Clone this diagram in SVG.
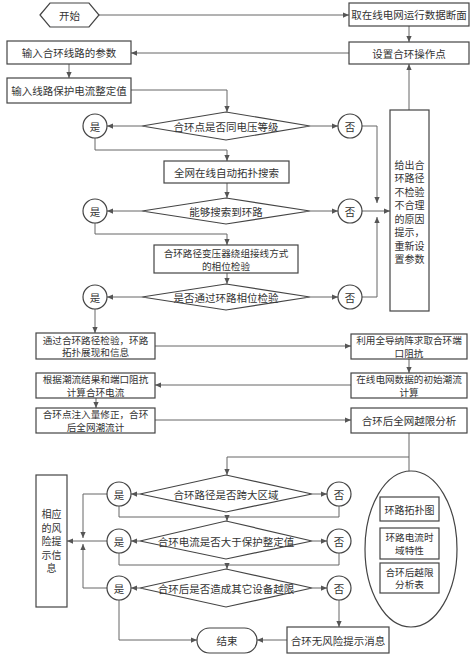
<svg xmlns="http://www.w3.org/2000/svg" width="474" height="655" viewBox="0 0 474 655">
<defs>
<marker id="ah" viewBox="0 0 8 8" refX="8" refY="4" markerWidth="6" markerHeight="6" orient="auto" markerUnits="userSpaceOnUse">
<path d="M0,0.5 L8,4 L0,7.5 z" fill="#555"/>
</marker>
<style>
.n{fill:#fff;stroke:#444;stroke-width:1.2}
.t{font-family:"Noto Sans CJK SC","Noto Sans",sans-serif;font-size:10.5px;fill:#333;text-anchor:middle;dominant-baseline:central}
.s{font-size:9.6px}
.v{font-size:10px}
.c{fill:none;stroke:#666;stroke-width:1}
.a{marker-end:url(#ah)}
</style>
</defs>
<rect width="474" height="655" fill="#fff"/>
<g id="connectors">
<path class="c a" d="M99,15 H349"/>
<path class="c a" d="M409,26 V42"/>
<path class="c a" d="M349,53 H131"/>
<path class="c a" d="M69,64 V78"/>
<path class="c a" d="M131,90 H227 V112"/>
<path class="c a" d="M142,126 H107"/>
<path class="c a" d="M310,126 H338"/>
<path class="c a" d="M95,138 V150 H227 V161"/>
<path class="c a" d="M227,183 V198"/>
<path class="c a" d="M142,211 H107"/>
<path class="c a" d="M310,211 H338"/>
<path class="c a" d="M95,223 V234 H227 V245"/>
<path class="c a" d="M227,273 V284"/>
<path class="c a" d="M142,297 H107"/>
<path class="c a" d="M310,297 H338"/>
<path class="c a" d="M362,126 H377 V203"/>
<path class="c a" d="M362,297 H377 V217"/>
<path class="c a" d="M362,211 H390"/>
<path class="c a" d="M409,110 V64"/>
<path class="c a" d="M95,309 V333"/>
<path class="c a" d="M155,346 H351"/>
<path class="c a" d="M409,359 V373"/>
<path class="c a" d="M351,385 H155"/>
<path class="c a" d="M96,398 V408"/>
<path class="c a" d="M155,420 H351"/>
<path class="c a" d="M409,433 V497"/>
<path class="c a" d="M409,457 H227 V475"/>
<path class="c a" d="M140,494 H131"/>
<path class="c a" d="M312,494 H327"/>
<path class="c a" d="M140,541 H131"/>
<path class="c a" d="M312,541 H327"/>
<path class="c a" d="M140,588 H131"/>
<path class="c a" d="M312,588 H327"/>
<path class="c" d="M119,506 V517 H339 V506"/>
<path class="c a" d="M227,517 V521"/>
<path class="c" d="M119,553 V565 H339 V553"/>
<path class="c a" d="M227,565 V569"/>
<path class="c a" d="M107,494 H83 V538"/>
<path class="c a" d="M107,588 H83 V544"/>
<path class="c a" d="M107,541 H67"/>
<path class="c a" d="M119,600 V640 H197"/>
<path class="c a" d="M339,600 V627"/>
<path class="c a" d="M287,640 H257"/>
</g>
<g id="start"><polygon class="n" points="40,15 50,3 89,3 99,15 89,27 50,27"/><text class="t" x="69.5" y="15">开始</text></g>
<g id="getData"><rect class="n" x="349" y="3" width="120" height="23"/><text class="t" x="409" y="14.5">取在线电网运行数据断面</text></g>
<g id="setPoint"><rect class="n" x="349" y="42" width="120" height="22"/><text class="t" x="409" y="53">设置合环操作点</text></g>
<g id="inputParams"><rect class="n" x="7" y="41" width="124" height="23"/><text class="t" x="69" y="52.5">输入合环线路的参数</text></g>
<g id="inputProt"><rect class="n" x="7" y="78" width="124" height="25"/><text class="t" x="69" y="90.5">输入线路保护电流整定值</text></g>
<g id="d1"><polygon class="n" points="142,126 226,112 310,126 226,140"/><text class="t" x="226" y="126">合环点是否同电压等级</text></g>
<g id="y1"><circle class="n" cx="95" cy="126" r="12"/><text class="t" x="95" y="126">是</text></g>
<g id="n1"><circle class="n" cx="350" cy="126" r="12"/><text class="t" x="350" y="126">否</text></g>
<g id="topo"><rect class="n" x="164" y="161" width="125" height="22"/><text class="t" x="226.5" y="172">全网在线自动拓扑搜索</text></g>
<g id="d2"><polygon class="n" points="142,211 226,198 310,211 226,224"/><text class="t" x="226" y="211">能够搜索到环路</text></g>
<g id="y2"><circle class="n" cx="95" cy="211" r="12"/><text class="t" x="95" y="211">是</text></g>
<g id="n2"><circle class="n" cx="350" cy="211" r="12"/><text class="t" x="350" y="211">否</text></g>
<g id="phase"><rect class="n" x="154" y="245" width="144" height="28"/><text class="t s"><tspan x="226" y="252.5">合环路径变压器绕组接线方式</tspan><tspan x="226" y="265.5">的相位检验</tspan></text></g>
<g id="d3"><polygon class="n" points="142,297 226,284 310,297 226,310"/><text class="t" x="226" y="297">是否通过环路相位检验</text></g>
<g id="y3"><circle class="n" cx="95" cy="297" r="12"/><text class="t" x="95" y="297">是</text></g>
<g id="n3"><circle class="n" cx="350" cy="297" r="12"/><text class="t" x="350" y="297">否</text></g>
<g id="reason"><rect class="n" x="390" y="110" width="39" height="201"/>
<text class="t v"><tspan x="409.5" y="163.5">给出合</tspan><tspan x="409.5" y="177">环路径</tspan><tspan x="409.5" y="190.5">不检验</tspan><tspan x="409.5" y="204">不合理</tspan><tspan x="409.5" y="217.5">的原因</tspan><tspan x="409.5" y="231">提示，</tspan><tspan x="409.5" y="244.5">重新设</tspan><tspan x="409.5" y="258">置参数</tspan></text></g>
<g id="pass"><rect class="n" x="36" y="333" width="119" height="26"/><text class="t s"><tspan x="95.5" y="339.8">通过合环路径检验，环路</tspan><tspan x="95.5" y="352.3">拓扑展现和信息</tspan></text></g>
<g id="admit"><rect class="n" x="351" y="334" width="116" height="25"/><text class="t s"><tspan x="409" y="340.3">利用全导纳阵求取合环端</tspan><tspan x="409" y="352.8">口阻抗</tspan></text></g>
<g id="initFlow"><rect class="n" x="351" y="373" width="116" height="25"/><text class="t s"><tspan x="409" y="379.3">在线电网数据的初始潮流</tspan><tspan x="409" y="391.8">计算</tspan></text></g>
<g id="loopCur"><rect class="n" x="36" y="373" width="119" height="25"/><text class="t s"><tspan x="95.5" y="379.3">根据潮流结果和端口阻抗</tspan><tspan x="95.5" y="391.8">计算合环电流</tspan></text></g>
<g id="inject"><rect class="n" x="36" y="408" width="119" height="25"/><text class="t s"><tspan x="95.5" y="414.3">合环点注入量修正，合环</tspan><tspan x="95.5" y="426.8">后全网潮流计</tspan></text></g>
<g id="limit"><rect class="n" x="351" y="408" width="116" height="25"/><text class="t" x="409" y="420.5">合环后全网越限分析</text></g>
<g id="outputs"><ellipse class="n" cx="411" cy="549" rx="46" ry="78"/>
<rect class="n" x="380" y="497" width="59" height="24"/><text class="t v" x="409.5" y="509">环路拓扑图</text>
<rect class="n" x="380" y="528" width="59" height="31"/><text class="t s"><tspan x="409.5" y="537.25">环路电流时</tspan><tspan x="409.5" y="549.75">域特性</tspan></text>
<rect class="n" x="380" y="563" width="59" height="30"/><text class="t s"><tspan x="409.5" y="571.75">合环后越限</tspan><tspan x="409.5" y="584.25">分析表</tspan></text></g>
<g id="d4"><polygon class="n" points="140,494 226,475 312,494 226,512"/><text class="t" x="226" y="494">合环路径是否跨大区域</text></g>
<g id="y4"><circle class="n" cx="119" cy="494" r="12"/><text class="t" x="119" y="494">是</text></g>
<g id="n4"><circle class="n" cx="339" cy="494" r="12"/><text class="t" x="339" y="494">否</text></g>
<g id="d5"><polygon class="n" points="140,541 226,521 312,541 226,559"/><text class="t" x="226" y="541">合环电流是否大于保护整定值</text></g>
<g id="y5"><circle class="n" cx="119" cy="541" r="12"/><text class="t" x="119" y="541">是</text></g>
<g id="n5"><circle class="n" cx="339" cy="541" r="12"/><text class="t" x="339" y="541">否</text></g>
<g id="d6"><polygon class="n" points="140,588 226,569 312,588 226,607"/><text class="t" x="226" y="588">合环后是否造成其它设备越限</text></g>
<g id="y6"><circle class="n" cx="119" cy="588" r="12"/><text class="t" x="119" y="588">是</text></g>
<g id="n6"><circle class="n" cx="339" cy="588" r="12"/><text class="t" x="339" y="588">否</text></g>
<g id="risk"><rect class="n" x="36" y="475" width="31" height="132"/>
<text class="t v"><tspan x="51.5" y="513">相应</tspan><tspan x="51.5" y="526.5">的风</tspan><tspan x="51.5" y="540">险提</tspan><tspan x="51.5" y="553.5">示信</tspan><tspan x="51.5" y="567">息</tspan></text></g>
<g id="noRisk"><rect class="n" x="287" y="627" width="102" height="26"/><text class="t" x="338" y="640">合环无风险提示消息</text></g>
<g id="end"><rect class="n" x="197" y="628" width="60" height="25" rx="12.5"/><text class="t" x="227" y="640.5">结束</text></g>
</svg>
